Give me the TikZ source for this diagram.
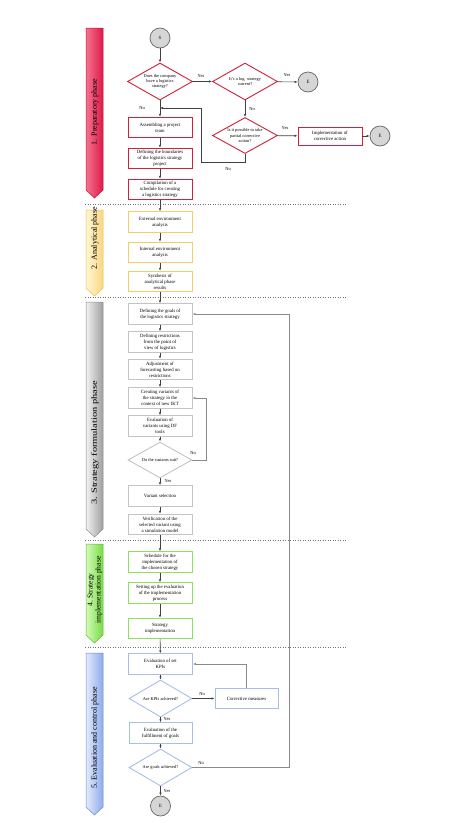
\documentclass[tikz,border=0pt]{standalone}
\usepackage{fontspec}
\setmainfont{Liberation Serif}
\usetikzlibrary{shapes.geometric,arrows.meta}
\definecolor{cred}{HTML}{D0203A}
\definecolor{cyel}{HTML}{F5CC66}
\definecolor{cgray}{HTML}{C4C4C4}
\definecolor{cgreen}{HTML}{8EE060}
\definecolor{cblue}{HTML}{A8BEEA}
\definecolor{cline}{HTML}{404040}
\definecolor{cloop}{HTML}{8A8A8A}
\definecolor{p1l}{HTML}{F6728F}
\definecolor{p1r}{HTML}{DC1A46}
\definecolor{p1b}{HTML}{B8153A}
\definecolor{p2l}{HTML}{FFF6D2}
\definecolor{p2r}{HTML}{F9D783}
\definecolor{p2b}{HTML}{F0BE48}
\definecolor{p4l}{HTML}{D4FAB8}
\definecolor{p4r}{HTML}{74DC44}
\definecolor{p4b}{HTML}{5CC030}
\definecolor{p5l}{HTML}{E2EAFC}
\definecolor{p5r}{HTML}{8EABEC}
\definecolor{p5b}{HTML}{6C8AD8}
\tikzset{
  txt/.style={font=\fontsize{4.8}{6}\selectfont, align=center},
  pbox/.style={txt, draw, fill=white, minimum width=64pt, minimum height=20.5pt, inner sep=0pt, line width=0.9pt},
  pdia/.style={diamond, draw, fill=white, minimum width=65pt, minimum height=37pt, inner sep=0pt, shape aspect=1.75, line width=0.9pt, font=\fontsize{4.4}{5.4}\selectfont, align=center},
  term/.style={circle, draw=black!60, fill=black!16, minimum size=20pt, inner sep=0pt, line width=0.7pt, font=\fontsize{4.8}{6}\selectfont},
  conn/.style={draw=cline, line width=0.6pt, -{Latex[length=3pt,width=2.4pt]}},
  loop/.style={draw=cloop, line width=0.7pt, -{Latex[length=3pt,width=2.4pt]}},
  lab/.style={font=\fontsize{4.5}{5}\selectfont, inner sep=0pt},
  sep/.style={draw=black!55, line width=0.5pt, dotted},
  phlab/.style={rotate=90, font=\fontsize{8}{9}\selectfont, align=center, inner sep=0pt},
}
\begin{document}
\begin{tikzpicture}[x=1pt,y=-1pt]
\useasboundingbox (0,0) rectangle (474,823);
\fill[white] (0,0) rectangle (474,823);

% phase arrows
\draw[draw=p1b, line width=0.5pt, left color=p1l, right color=p1r]
  (86,28) -- (103,28) -- (103,190) -- (94.5,198) -- (86,190) -- cycle;
\draw[draw=p2b, line width=0.5pt, left color=p2l, right color=p2r]
  (86,210) -- (103,210) -- (103,288) -- (94.5,296) -- (86,288) -- cycle;
\draw[draw=black!45, line width=0.5pt, left color=black!5, right color=black!38]
  (86,302) -- (103,302) -- (103,529) -- (94.5,537) -- (86,529) -- cycle;
\draw[draw=p4b, line width=0.5pt, left color=p4l, right color=p4r]
  (86,544) -- (103,544) -- (103,635) -- (94.5,643) -- (86,635) -- cycle;
\draw[draw=p5b, line width=0.5pt, left color=p5l, right color=p5r]
  (86,653) -- (103,653) -- (103,807) -- (94.5,815) -- (86,807) -- cycle;

\node[phlab] (l1) at (95,112) {1. Preparatory phase};
\node[phlab] (l2) at (95,238) {2. Analytical phase};
\node[phlab] (l3) at (95,443) {\scalebox{1.3}[1]{3. Strategy formulation phase}};
\node[phlab, font=\fontsize{7.6}{8}\selectfont] (l4) at (95,590) {4. Strategy\\implementation phase};
\node[phlab] (l5) at (95,738) {5. Evaluation and control phase};

% separators
\draw[sep] (85,204) -- (346,204);
\draw[sep] (85,297) -- (346,297);
\draw[sep] (85,540) -- (346,540);
\draw[sep] (85,647) -- (346,647);

% phase 1
\node[term] (S) at (160,38) {S};
\node[pdia, draw=cred] (d1) at (160,81.5) {Does the company\\have a logistics\\strategy?};
\node[pdia, draw=cred] (d2) at (245,81.5) {It's a log. strategy\\current?};
\node[term] (E1) at (308,82) {E};
\node[pdia, draw=cred, minimum height=36pt] (d3) at (245,135.5) {Is it possible to take\\partial corrective\\action?};
\node[pbox, draw=cred, minimum height=18pt] (impl) at (330,136) {Implementation of\\corrective action};
\node[term] (E2) at (380,136) {E};
\node[pbox, draw=cred] (b11) at (160,127.5) {Assembling a project\\team};
\node[pbox, draw=cred] (b12) at (160,158.5) {Defining the boundaries\\of the logistics strategy\\project};
\node[pbox, draw=cred] (b13) at (160,189.5) {Compilation of a\\schedule for creating\\a logistics strategy};

% phase 2
\node[pbox, draw=cyel] (b21) at (160,222) {External environment\\analysis};
\node[pbox, draw=cyel] (b22) at (160,252.5) {Internal environment\\analysis};
\node[pbox, draw=cyel] (b23) at (160,281.5) {Synthesis of\\analytical phase\\results};

% phase 3
\node[pbox, draw=cgray] (b31) at (160,314) {Defining the goals of\\the logistics strategy};
\node[pbox, draw=cgray] (b32) at (160,342) {Defining restrictions\\from the point of\\view of logistics};
\node[pbox, draw=cgray] (b33) at (160,369.5) {Adjustment of\\forecasting based on\\restrictions};
\node[pbox, draw=cgray] (b34) at (160,398) {Creating variants of\\the strategy in the\\context of new IKT};
\node[pbox, draw=cgray] (b35) at (160,426) {Evaluation of\\variants using DF\\tools};
\node[pdia, draw=cgray, minimum width=64pt, minimum height=36pt] (d31) at (160,460) {Do the variants suit?};
\node[pbox, draw=cgray] (b36) at (160,496) {Variant selection};
\node[pbox, draw=cgray] (b37) at (160,524.5) {Verification of the\\selected variant using\\a simulation model};

% phase 4
\node[pbox, draw=cgreen] (b41) at (160,562) {Schedule for the\\implementation of\\the chosen strategy};
\node[pbox, draw=cgreen] (b42) at (160,593) {Setting up the evaluation\\of the implementation\\process};
\node[pbox, draw=cgreen] (b43) at (160,628.5) {Strategy\\implementation};

% phase 5
\node[pbox, draw=cblue] (b51) at (160.5,664) {Evaluation of set\\KPIs};
\node[pdia, draw=cblue, minimum width=63pt] (d51) at (160.5,698.5) {Are KPIs achieved?};
\node[pbox, draw=cblue, minimum width=63pt] (corr) at (246.5,698.5) {Corrective measures};
\node[pbox, draw=cblue, minimum width=63pt] (b52) at (160.5,733) {Evaluation of the\\fulfillment of goals};
\node[pdia, draw=cblue, minimum width=63pt] (d52) at (160.5,767.5) {Are goals achieved?};
\node[term] (E3) at (160.5,806) {E};

% coordinates for loops
\coordinate (c1) at (245,162);
\coordinate (c2) at (201,162);
\coordinate (c3) at (201,108);
\coordinate (c4) at (160,108);
\coordinate (c5) at (206,460);
\coordinate (c6) at (206,398);
\coordinate (c7) at (246.5,664);
\coordinate (c8) at (289,767.5);
\coordinate (c9) at (289,314);

% connectors
\draw[conn] (S) -- (d1);
\draw[conn] (d1) -- (d2);
\draw[conn] (d2) -- (E1);
\draw[conn] (d2) -- (d3);
\draw[conn] (d3) -- (impl);
\draw[conn] (impl) -- (E2);
\draw[conn] (d1) -- (b11);
\draw[loop, draw=cline] (d3.south) -- (c1) -- (c2) -- (c3) -- (c4);
\draw[conn] (b11) -- (b12);
\draw[conn] (b12) -- (b13);
\draw[conn] (b13) -- (b21);
\draw[conn] (b21) -- (b22);
\draw[conn] (b22) -- (b23);
\draw[conn] (b23) -- (b31);
\draw[conn] (b31) -- (b32);
\draw[conn] (b32) -- (b33);
\draw[conn] (b33) -- (b34);
\draw[conn] (b34) -- (b35);
\draw[conn] (b35) -- (d31);
\draw[conn] (d31) -- (b36);
\draw[loop] (d31.east) -- (c5) -- (c6) -- (b34.east);
\draw[conn] (b36) -- (b37);
\draw[conn] (b37) -- (b41);
\draw[conn] (b41) -- (b42);
\draw[conn] (b42) -- (b43);
\draw[conn] (b43) -- (b51);
\draw[conn] (b51) -- (d51);
\draw[conn] (d51) -- (corr);
\draw[loop] (corr.north) -- (c7) -- (b51.east);
\draw[conn] (d51) -- (b52);
\draw[conn] (b52) -- (d52);
\draw[conn] (d52) -- (E3);
\draw[loop] (d52.east) -- (c8) -- (c9) -- (b31.east);

% labels
\node[lab] (y1) at (201,76) {Yes};
\node[lab] (y2) at (287,75) {Yes};
\node[lab] (n1) at (142,108) {No};
\node[lab] (n2) at (252,109) {No};
\node[lab] (y3) at (285,128.5) {Yes};
\node[lab] (n3) at (228,169) {No};
\node[lab] (n4) at (193,453) {No};
\node[lab] (y4) at (168,481) {Yes};
\node[lab] (n5) at (202,694) {No};
\node[lab] (y5) at (167,719.5) {Yes};
\node[lab] (n6) at (201,763) {No};
\node[lab] (y6) at (167,791) {Yes};
\end{tikzpicture}
\end{document}
